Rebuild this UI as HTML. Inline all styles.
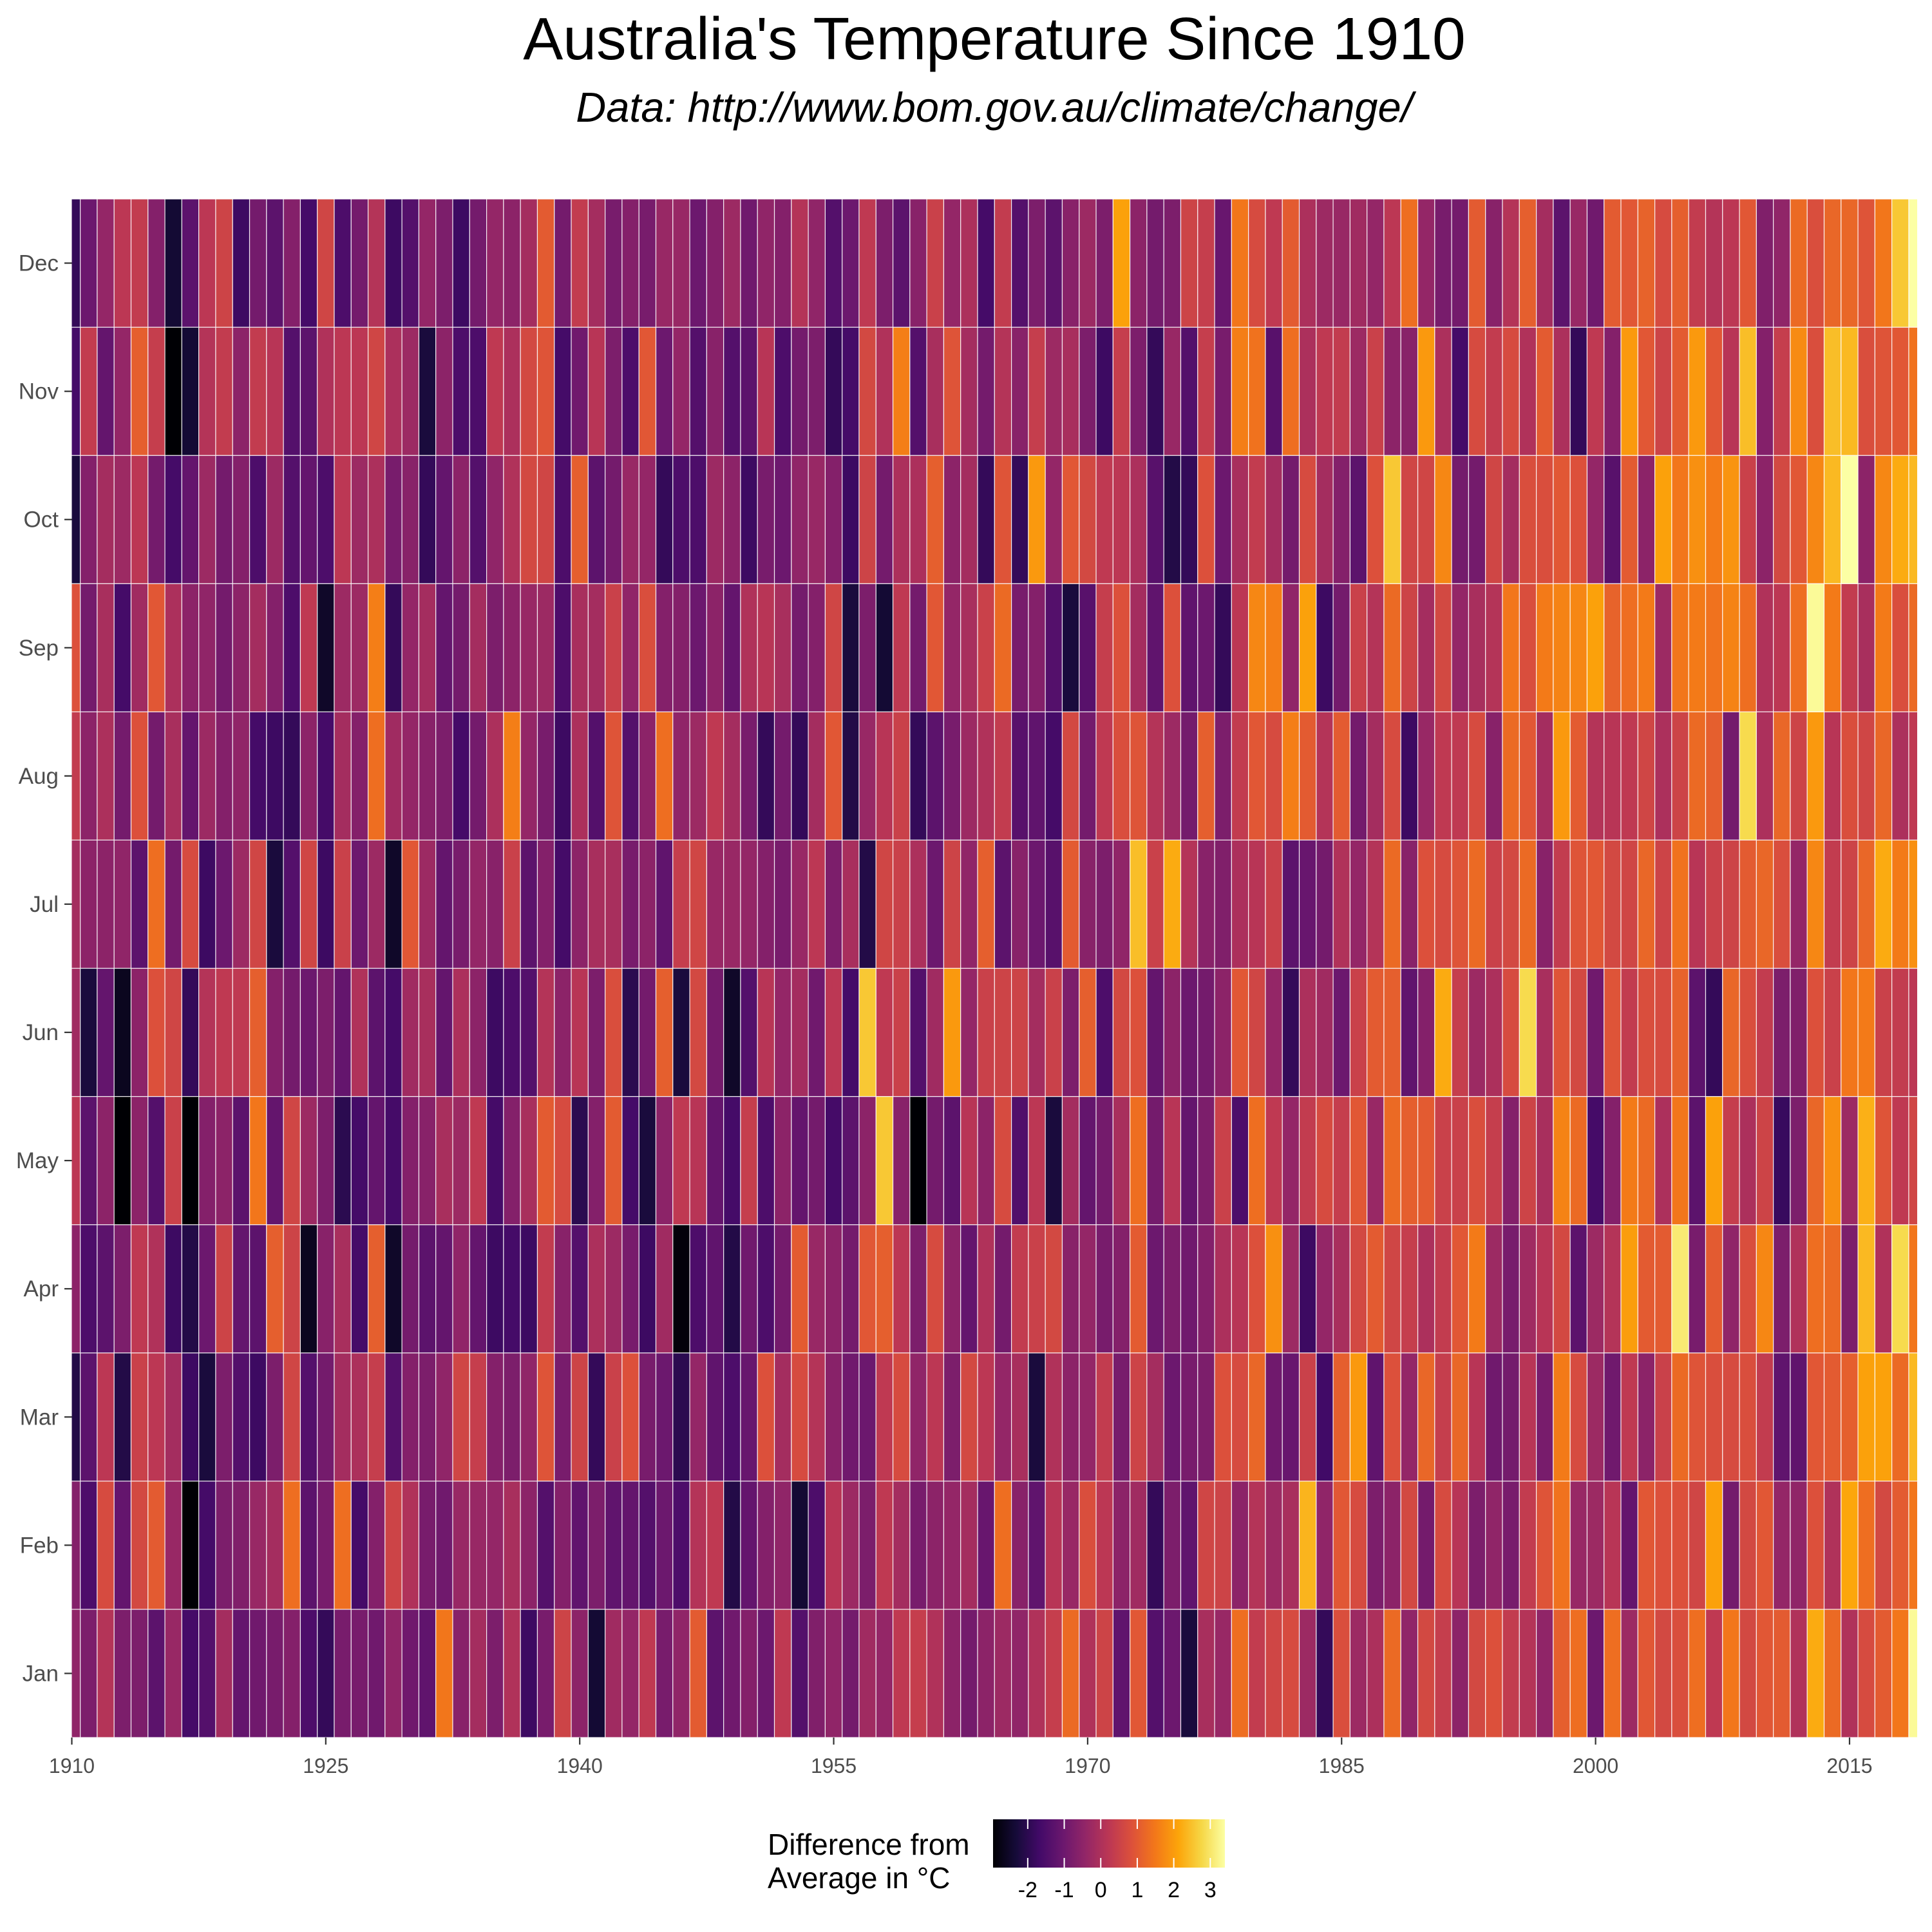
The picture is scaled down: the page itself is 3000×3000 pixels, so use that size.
<!DOCTYPE html>
<html><head><meta charset="utf-8"><style>
html,body{margin:0;padding:0;background:#fff;}
svg{display:block;font-family:"Liberation Sans",Arial,sans-serif;}
</style></head><body>
<svg id="chart" width="3000" height="3000" viewBox="0 0 3000 3000" xmlns="http://www.w3.org/2000/svg">
<defs>
<clipPath id="plotclip"><rect x="111.5" y="309" width="2865.5" height="2389"/></clipPath>
<linearGradient id="infgrad" x1="0" x2="1" y1="0" y2="0">
<stop offset="0" stop-color="#000004"/><stop offset="0.1" stop-color="#160B39"/><stop offset="0.2" stop-color="#420A68"/><stop offset="0.3" stop-color="#6A176E"/><stop offset="0.4" stop-color="#932667"/><stop offset="0.5" stop-color="#BC3754"/><stop offset="0.6" stop-color="#DD513A"/><stop offset="0.7" stop-color="#F37819"/><stop offset="0.8" stop-color="#FCA50A"/><stop offset="0.9" stop-color="#F6D746"/><stop offset="1" stop-color="#FCFFA4"/>
</linearGradient>
</defs>
<text x="1544" y="92" font-size="93" text-anchor="middle" fill="#000">Australia's Temperature Since 1910</text>
<text x="1544" y="189" font-size="65" font-style="italic" text-anchor="middle" fill="#000">Data: http://www.bom.gov.au/climate/change/</text>
<g id="cells" clip-path="url(#plotclip)"></g>
<g id="yaxis"></g>
<g id="xaxis"></g>
<g id="legend">
<text x="1192" y="2894" font-size="46" fill="#000">Difference from</text>
<text x="1192" y="2946" font-size="46" fill="#000">Average in °C</text>
<rect x="1550" y="2838" width="360" height="75" fill="url(#infgrad)"/>
</g>
</svg>
<script>
const years = [];
for (let y = 1910; y <= 2019; y++) years.push(y);
const months = ["Jan","Feb","Mar","Apr","May","Jun","Jul","Aug","Sep","Oct","Nov","Dec"];
const xTicks = [1910,1925,1940,1955,1970,1985,2000,2015];
const legendTicks = [-2,-1,0,1,2,3];

const jan = [-0.45,-0.7,0.0,-0.7,-0.7,-1.1,-0.35,-1.4,-1.2,-0.2,-1.0,-0.85,-0.75,-0.6,-1.3,-1.6,-0.75,-0.75,-0.85,
-0.45,-0.85,-1.05,1.1,-0.55,-0.2,-0.7,-0.05,-1.5,-0.75,0.35,-0.5,-2.0,-0.25,-0.4,0.15,-0.75,-0.45,
0.75,-1.1,-0.85,-0.6,-0.9,0.15,-1.2,-0.65,-0.45,-0.8,-0.25,-0.4,0.15,0.25,-0.05,-0.5,-0.8,-0.5,
-0.3,-0.45,-0.05,0.25,0.95,-0.05,0.35,-1.05,0.7,-1.2,-0.9,-1.9,-0.15,-0.35,1.0,0.2,0.4,0.5,-0.3,
-1.6,0.55,-0.3,-0.1,0.95,-0.45,0.45,0.25,-0.5,0.45,0.6,0.2,0.0,-0.45,0.8,1.0,-0.9,1.0,-0.3,
0.7,0.45,0.55,1.0,0.15,1.1,0.45,0.7,0.75,-0.05,1.7,0.95,-0.05,0.5,0.75,1.1,2.6];
const feb = [-0.6,-1.3,0.5,-1.0,0.45,0.75,-0.35,-2.9,-1.4,-0.7,-0.65,-0.35,-0.2,1.0,-1.1,-0.75,1.0,-1.4,-0.6,
0.35,-0.05,-0.75,-0.85,-0.35,-0.35,-0.4,-0.15,-0.5,-1.2,-0.6,-1.05,-0.7,-1.05,-1.0,-1.2,-0.9,-1.3,
0.0,0.15,-1.8,-1.0,-0.6,-0.45,-2.0,-1.3,0.05,-0.3,-0.7,0.15,-0.2,-0.75,-0.5,-0.4,-0.2,-0.95,
1.0,-0.55,-1.05,0.05,-0.35,0.55,0.1,-0.5,-0.25,-1.6,-0.7,-1.05,0.4,0.35,-0.5,0.0,-0.3,-0.15,1.8,
-0.45,0.7,0.5,-0.7,-0.5,0.45,-0.8,0.5,0.05,-0.7,-0.45,-0.75,0.2,0.65,1.05,-0.35,-0.3,0.05,-1.0,
0.7,0.6,0.6,0.4,1.6,-0.8,0.45,0.7,-0.4,-0.45,0.6,-0.05,1.65,1.0,0.45,0.75,1.1];
const mar = [-1.8,-1.1,0.1,-1.8,0.3,0.1,-0.2,-1.5,-1.9,-0.7,-1.2,-1.5,-0.7,0.4,-1.2,-0.8,-0.2,-0.1,0.25,
-1.2,-0.6,-0.7,-0.45,0.4,0.25,-0.6,-0.7,-0.45,0.65,-0.75,0.35,-1.6,0.3,0.6,-0.75,-0.9,-1.7,
-0.4,-1.05,-1.3,-0.95,0.6,-0.2,0.5,0.0,-0.55,-0.85,-0.9,0.15,0.5,-0.45,0.1,-0.7,0.45,0.1,
-0.4,-0.15,-1.9,-0.05,-0.5,-0.4,0.2,-0.75,0.35,-0.2,-0.9,-0.75,-0.7,0.6,0.5,0.9,-0.85,-0.95,0.3,
-1.45,0.8,1.5,-1.05,0.6,-0.4,0.9,0.25,0.9,0.05,-0.85,-0.8,0.05,-0.75,1.15,0.5,-0.3,-0.85,0.15,
-0.5,0.3,0.95,0.65,0.55,0.5,0.55,0.2,-1.05,-1.05,0.7,0.75,0.8,1.6,1.6,0.95,1.85];
const apr = [-0.5,-1.3,-1.1,-0.7,0.15,-0.05,-1.5,-1.8,-0.9,0.35,-1.0,-1.1,0.8,0.35,-2.2,-0.55,-0.15,-1.4,0.8,
-2.1,-0.8,-1.1,-1.0,-0.45,-1.0,-1.5,-1.4,-1.5,0.2,-0.55,-1.2,-0.1,-0.3,-0.75,-1.5,-0.25,-2.4,
-1.3,-1.05,-1.8,-0.85,-1.3,-0.8,0.75,-0.35,-0.5,-0.8,0.7,0.8,0.1,-0.7,0.5,-0.5,-1.0,-0.05,
-0.8,0.2,0.3,0.45,-0.55,-0.4,-0.75,-0.6,0.75,-0.9,-0.7,-0.85,-0.6,-0.1,0.05,0.6,1.4,-0.3,-1.5,
-0.4,-0.15,0.45,0.75,0.4,0.25,-0.1,0.2,0.7,1.15,-0.3,-0.75,-0.25,0.05,0.45,-1.1,-0.3,0.0,1.55,
0.75,0.75,2.4,-0.75,0.75,-0.45,0.55,1.3,-0.7,-0.05,1.0,0.95,-0.7,1.85,-0.05,2.2,1.1];
const may = [0.1,-1.1,-0.5,-2.9,-0.5,-1.2,0.3,-2.5,-0.6,-0.5,-1.1,1.1,-1.0,0.4,-0.3,-0.7,-1.7,-1.4,-1.0,
-1.4,-0.6,-0.55,-0.15,-0.3,0.15,-1.4,-0.6,-0.15,0.75,0.5,-1.7,-0.6,0.75,-1.4,-1.9,-0.5,0.15,
0.05,-1.0,-1.4,0.25,-1.3,-0.5,-1.0,-0.8,-1.4,-1.1,-0.5,2.0,-0.55,-2.5,-0.8,-1.1,0.05,-0.5,
0.5,-1.25,0.1,-1.9,-0.2,-1.0,-0.8,-0.15,1.0,-0.8,0.05,-1.0,-0.7,0.3,-1.3,1.0,0.15,-0.4,0.2,
0.5,0.25,0.7,-0.35,0.95,0.8,0.75,0.3,0.3,0.55,0.25,-0.6,0.35,-0.15,1.25,0.95,-1.4,-0.6,1.15,
0.95,-0.1,1.1,-1.1,1.6,0.25,-0.1,0.35,-1.55,-0.7,0.9,1.4,-0.3,1.75,0.65,0.15,0.4];
const jun = [-0.25,-1.9,-1.0,-2.2,-0.5,0.6,0.4,-1.6,0.0,0.15,0.15,0.8,-0.6,-0.8,-0.9,-0.7,-1.0,-0.05,-1.1,
-1.4,-0.25,-0.15,-1.0,-0.1,-0.5,-1.5,-1.3,-1.2,0.0,-0.5,0.05,-0.7,0.55,-1.7,-0.8,0.8,-1.9,
0.45,-0.8,-2.1,-1.2,0.05,-0.4,-0.2,-0.85,0.1,-1.4,2.0,0.15,0.3,-1.2,-0.25,1.5,-0.4,0.3,
0.35,0.35,-0.2,0.3,-0.7,0.8,-1.3,0.45,0.6,-1.0,-0.5,-0.9,-0.8,-0.5,0.7,0.4,-0.4,-1.6,-0.1,
-0.25,-0.9,0.3,0.75,0.8,-1.05,-0.6,1.7,0.25,-0.3,-0.1,0.5,2.2,-0.15,0.65,0.45,-0.85,0.65,0.2,
0.55,0.5,0.85,-1.1,-1.6,0.9,0.55,0.2,-0.7,-0.65,0.6,0.3,1.1,1.15,0.3,0.2,0.1];
const jul = [-0.2,-0.5,-0.5,-0.45,-1.1,1.0,-0.8,0.5,-1.5,-0.9,-0.3,0.4,-1.9,-1.2,0.4,-1.5,0.3,-0.9,-0.3,
-2.1,0.7,-0.3,-1.0,-0.75,-0.4,-0.55,0.3,-1.1,-0.6,-1.4,-0.5,-0.15,-0.15,-0.75,-0.5,-1.05,0.25,
0.4,-0.35,-0.35,-0.4,-0.6,-0.75,-0.35,0.1,-0.7,-0.15,-1.8,0.4,0.3,-0.1,-0.9,0.35,-0.45,0.8,
-1.1,-0.55,-0.9,-1.15,0.75,-0.55,-0.7,-0.45,1.9,0.3,1.7,0.0,-0.55,-0.65,-0.1,0.05,0.3,-1.1,-0.95,
-0.8,-0.05,-0.4,0.0,0.95,-0.55,0.6,0.5,0.65,0.95,0.3,0.45,0.95,-0.55,0.2,0.65,0.7,0.45,0.4,
0.9,0.35,1.05,0.05,0.3,0.35,0.75,0.9,0.55,-0.4,1.3,0.2,0.35,0.9,1.7,1.15,1.4];
const aug = [0.2,-0.5,-0.1,-0.8,0.6,-0.8,-0.15,-1.0,-0.3,-0.6,-0.45,-1.4,-1.5,-1.6,-0.5,-1.4,-0.2,-0.6,1.0,
-0.25,-0.4,-0.55,-0.7,-1.4,-0.8,-0.1,1.2,-0.4,-0.75,-1.5,-0.1,-1.2,0.65,-1.2,-0.5,1.0,-0.45,
-0.3,0.15,-0.2,-0.75,-1.6,-0.8,-1.6,-0.2,0.7,-1.8,-0.35,0.05,0.3,-1.6,-1.1,-0.75,-0.3,-0.05,
0.2,-1.15,-1.05,-1.4,0.45,-0.8,0.15,0.55,0.65,0.0,-0.3,-0.8,0.8,-0.7,0.2,0.7,0.5,1.2,0.75,
0.0,0.75,-0.8,-0.2,0.5,-1.5,-0.35,0.15,0.15,0.5,-0.55,0.95,0.7,-0.2,1.5,0.75,0.0,0.05,0.15,
0.4,-0.1,0.35,0.95,0.8,-0.8,2.2,-0.1,0.9,0.35,1.5,0.05,0.55,0.4,0.9,-0.1,0.15];
const sep = [0.6,-0.8,-0.15,-1.4,-0.25,0.7,-0.1,-0.5,-0.45,-0.8,-0.5,-0.2,-0.6,-1.3,0.15,-2.1,-0.3,-0.3,1.2,
-1.6,-0.4,-0.2,-1.0,-0.8,-0.2,-0.7,-0.5,-0.35,-0.3,-1.3,-0.15,-0.2,0.3,-0.45,0.55,-0.6,-0.6,
-0.9,-0.5,-1.0,-0.05,0.05,-0.15,-0.8,-0.6,0.4,-1.9,-0.7,-2.0,0.15,-0.8,0.7,-0.4,-0.15,0.3,
0.95,-0.75,-0.6,-1.2,-1.9,-1.15,0.25,0.6,-0.2,-1.05,0.6,-1.05,-0.9,-1.6,0.1,1.3,1.2,-0.45,1.6,
-1.5,-0.8,0.3,0.0,0.95,0.35,-0.2,0.45,-0.4,-0.15,0.0,1.1,0.55,1.15,1.25,1.3,1.6,0.85,1.0,
1.15,-0.3,1.1,1.15,1.05,1.25,1.0,-0.05,0.1,1.0,2.6,1.15,0.2,-0.15,1.15,0.55,0.95];
const oct = [-1.9,-0.6,-0.2,-0.3,0.1,-0.8,-1.4,-1.0,-0.3,-0.8,-0.6,-1.3,-0.3,-1.2,-1.0,-1.3,0.1,-0.3,-0.1,
-0.75,-0.55,-1.6,-1.0,-0.5,-1.2,-0.45,-0.05,0.45,0.4,-1.3,0.8,-1.1,-0.8,-0.35,-0.4,-1.6,-1.3,
-1.3,-0.3,-0.5,-1.5,-0.75,-0.9,-0.45,-0.35,-0.6,-1.5,0.35,-0.8,-0.1,-0.1,0.8,-0.5,-0.2,-1.6,
0.65,-1.6,1.5,-0.4,0.7,0.45,0.15,0.1,-0.1,-1.15,-1.8,-1.6,0.6,-0.9,-0.15,0.2,-0.2,-0.8,0.5,
-0.2,-0.6,-1.1,0.6,2.0,0.4,0.4,1.3,-0.8,-0.8,0.4,-0.2,0.55,0.55,0.7,0.6,-0.4,-1.15,0.75,
-0.5,1.6,1.1,1.4,1.15,1.45,0.3,-0.5,0.45,0.7,1.3,1.85,2.8,-0.5,1.3,1.7,1.85];
const nov = [-1.4,0.2,-1.0,-0.4,0.8,0.25,-2.8,-2.0,0.0,0.2,-0.5,0.2,0.05,-1.2,-1.1,-0.05,0.1,0.1,0.4,
-0.1,-0.3,-1.9,-0.5,-1.3,-1.3,0.15,-0.1,0.45,0.65,-1.4,-0.85,0.05,-0.7,-1.3,0.7,-0.9,-0.4,
-1.2,-0.55,-1.2,-1.1,0.05,-1.3,-0.8,-0.7,-1.6,-1.4,0.45,-0.05,1.2,-1.2,-0.15,0.65,-0.2,-0.8,
0.0,-0.55,0.25,-0.3,-0.15,-0.7,-1.5,0.25,-0.7,-1.6,-0.35,-1.2,0.25,-0.75,1.2,1.05,-1.15,1.0,-0.1,
0.15,0.2,-0.3,0.3,-0.5,-0.55,1.5,-0.1,-1.4,0.5,0.2,0.5,-0.05,0.75,-0.1,-1.6,0.15,-0.6,1.5,
0.7,0.35,0.75,1.5,0.7,0.05,1.9,-0.6,0.25,1.35,0.55,1.9,1.85,0.55,0.65,0.7,1.05];
const dec = [-1.6,-0.9,-0.4,0.1,0.2,-0.6,-2.0,-1.1,0.1,0.35,-1.5,-0.8,-1.1,-0.6,-1.4,0.4,-1.3,-0.8,0.0,
-1.5,-1.2,-0.4,-0.7,-1.5,-0.8,-0.4,-0.5,-0.2,0.75,-0.8,0.2,-0.2,-0.75,-0.6,-0.75,-0.35,-0.35,
-0.9,-0.6,-0.3,-0.85,-0.45,-0.6,0.0,-0.45,-1.2,-0.9,0.15,-0.7,-1.1,-0.55,0.3,-0.4,-0.1,-1.4,
0.2,-1.2,-0.7,-1.1,-0.55,-0.3,-0.7,1.6,-0.5,-0.8,-0.7,0.35,0.25,-0.95,1.1,0.5,0.15,0.75,-0.1,
-0.3,-0.35,-0.25,-0.4,0.1,1.0,-0.4,-0.75,-0.8,0.75,-0.55,0.0,0.8,-0.2,-1.1,-0.35,-0.85,0.75,0.7,
0.85,0.5,0.8,0.2,0.0,0.1,0.7,-0.65,-0.45,0.95,0.55,0.9,0.9,0.65,1.1,2.0,3.3];
const series = [jan,feb,mar,apr,may,jun,jul,aug,sep,oct,nov,dec];

const NS = "http://www.w3.org/2000/svg";
const PL = 111.5, PR = 2977, PT = 309, PB = 2698;
const YW = 26.29;
const rowH = (PB - PT) / 12;
function xScale(y){ return PL + (y - 1910) * YW; }
function yScale(m){ return PT + (11 - m) * rowH; }
const stops = ["#000004","#160B39","#420A68","#6A176E","#932667","#BC3754","#DD513A","#F37819","#FCA50A","#F6D746","#FCFFA4"];
function hex(c){ return [parseInt(c.slice(1,3),16),parseInt(c.slice(3,5),16),parseInt(c.slice(5,7),16)]; }
function colorOf(v){
  let t = 0.48 + 0.195 * v;
  t = Math.max(0, Math.min(1, t));
  const p = t * 10, i = Math.min(9, Math.floor(p)), f = p - i;
  const a = hex(stops[i]), b = hex(stops[i+1]);
  return "rgb(" + a.map((c,k)=>Math.round(c + (b[k]-c)*f)).join(",") + ")";
}
function mk(tag, attrs, parent){
  const el = document.createElementNS(NS, tag);
  for (const k in attrs) el.setAttribute(k, attrs[k]);
  parent.appendChild(el);
  return el;
}
const cells = document.getElementById("cells");
series.forEach((arr, m) => {
  arr.forEach((v, i) => {
    const yr = years[i];
    const r = mk("rect", {x: (xScale(yr) - YW/2).toFixed(2), y: yScale(m).toFixed(2), width: YW.toFixed(2), height: rowH.toFixed(2), fill: colorOf(v), stroke: "#ffffff", "stroke-width": "1.2", "stroke-opacity": "0.85"}, cells);
    
    
  });
});
const yaxis = document.getElementById("yaxis");
months.forEach((mn, m) => {
  const cy = yScale(m) + rowH/2;
  const t = mk("line", {x1: 100, x2: 111.5, y1: cy, y2: cy, stroke: "#333", "stroke-width": 2.2}, yaxis);
  
  
  const lb = mk("text", {x: 91, y: cy + 12, "font-size": 35, "text-anchor": "end", fill: "#4d4d4d"}, yaxis);
  lb.textContent = mn;
  
  
});
const xaxis = document.getElementById("xaxis");
xTicks.forEach(yr => {
  const x = xScale(yr);
  const t = mk("line", {x1: x, x2: x, y1: PB, y2: PB + 11, stroke: "#333", "stroke-width": 2.2}, xaxis);
  
  
  const lb = mk("text", {x: x, y: PB + 55, "font-size": 32, "text-anchor": "middle", fill: "#4d4d4d"}, xaxis);
  lb.textContent = yr;
  
  
});
const legend = document.getElementById("legend");
const LX = 1550, LW = 360, LMIN = -2.95, LMAX = 3.4;
const bar = legend.querySelector('rect');
bar.setAttribute('x', 1542); bar.setAttribute('y', 2825);
legendTicks.forEach(v => {
  const x = 1542 + (v - LMIN) / (LMAX - LMIN) * LW;
  const t1 = mk("line", {x1: x, x2: x, y1: 2825, y2: 2840, stroke: "#fff", "stroke-width": 2}, legend);
  
  
  const t2 = mk("line", {x1: x, x2: x, y1: 2885, y2: 2900, stroke: "#fff", "stroke-width": 2}, legend);
  
  
  const lb = mk("text", {x: x, y: 2946, "font-size": 34, "text-anchor": "middle", fill: "#000"}, legend);
  lb.textContent = v;
  
  
});
legend.querySelectorAll('text')[0].setAttribute('y', 2880);
legend.querySelectorAll('text')[1].setAttribute('y', 2932);
</script>
</body></html>
